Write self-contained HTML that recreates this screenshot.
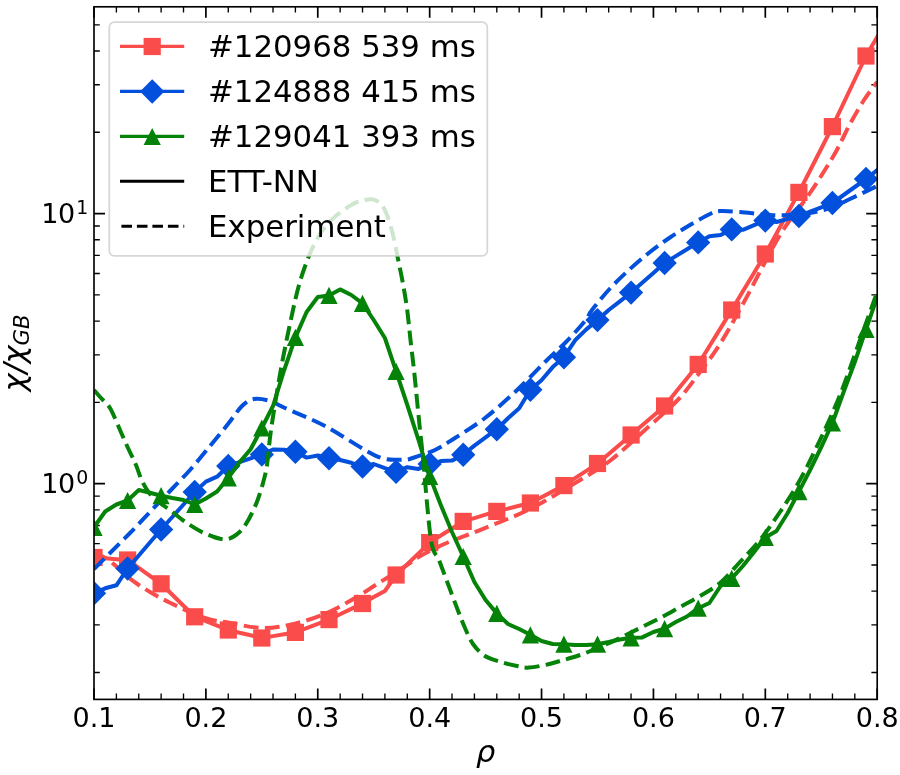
<!DOCTYPE html>
<html><head><meta charset="utf-8"><title>chi/chi_GB vs rho</title>
<style>html,body{margin:0;padding:0;background:#fff}svg{display:block}text{font-family:"DejaVu Sans","Liberation Sans",sans-serif;fill:#000}</style>
</head><body>
<svg width="900" height="775" viewBox="0 0 900 775">
<rect width="900" height="775" fill="#fff"/>
<defs><clipPath id="ax"><rect x="94.0" y="6.8" width="783.2" height="692.6"/></clipPath></defs>
<g fill="none"><path d="M94.00,699.4 v-11.0 M94.00,6.8 v11.0" stroke="#000" stroke-width="1.7"/><path d="M116.38,699.4 v-5.8 M116.38,6.8 v5.8" stroke="#000" stroke-width="1.35"/><path d="M138.75,699.4 v-5.8 M138.75,6.8 v5.8" stroke="#000" stroke-width="1.35"/><path d="M161.13,699.4 v-5.8 M161.13,6.8 v5.8" stroke="#000" stroke-width="1.35"/><path d="M183.51,699.4 v-5.8 M183.51,6.8 v5.8" stroke="#000" stroke-width="1.35"/><path d="M205.89,699.4 v-11.0 M205.89,6.8 v11.0" stroke="#000" stroke-width="1.7"/><path d="M228.26,699.4 v-5.8 M228.26,6.8 v5.8" stroke="#000" stroke-width="1.35"/><path d="M250.64,699.4 v-5.8 M250.64,6.8 v5.8" stroke="#000" stroke-width="1.35"/><path d="M273.02,699.4 v-5.8 M273.02,6.8 v5.8" stroke="#000" stroke-width="1.35"/><path d="M295.39,699.4 v-5.8 M295.39,6.8 v5.8" stroke="#000" stroke-width="1.35"/><path d="M317.77,699.4 v-11.0 M317.77,6.8 v11.0" stroke="#000" stroke-width="1.7"/><path d="M340.15,699.4 v-5.8 M340.15,6.8 v5.8" stroke="#000" stroke-width="1.35"/><path d="M362.53,699.4 v-5.8 M362.53,6.8 v5.8" stroke="#000" stroke-width="1.35"/><path d="M384.90,699.4 v-5.8 M384.90,6.8 v5.8" stroke="#000" stroke-width="1.35"/><path d="M407.28,699.4 v-5.8 M407.28,6.8 v5.8" stroke="#000" stroke-width="1.35"/><path d="M429.66,699.4 v-11.0 M429.66,6.8 v11.0" stroke="#000" stroke-width="1.7"/><path d="M452.03,699.4 v-5.8 M452.03,6.8 v5.8" stroke="#000" stroke-width="1.35"/><path d="M474.41,699.4 v-5.8 M474.41,6.8 v5.8" stroke="#000" stroke-width="1.35"/><path d="M496.79,699.4 v-5.8 M496.79,6.8 v5.8" stroke="#000" stroke-width="1.35"/><path d="M519.17,699.4 v-5.8 M519.17,6.8 v5.8" stroke="#000" stroke-width="1.35"/><path d="M541.54,699.4 v-11.0 M541.54,6.8 v11.0" stroke="#000" stroke-width="1.7"/><path d="M563.92,699.4 v-5.8 M563.92,6.8 v5.8" stroke="#000" stroke-width="1.35"/><path d="M586.30,699.4 v-5.8 M586.30,6.8 v5.8" stroke="#000" stroke-width="1.35"/><path d="M608.67,699.4 v-5.8 M608.67,6.8 v5.8" stroke="#000" stroke-width="1.35"/><path d="M631.05,699.4 v-5.8 M631.05,6.8 v5.8" stroke="#000" stroke-width="1.35"/><path d="M653.43,699.4 v-11.0 M653.43,6.8 v11.0" stroke="#000" stroke-width="1.7"/><path d="M675.81,699.4 v-5.8 M675.81,6.8 v5.8" stroke="#000" stroke-width="1.35"/><path d="M698.18,699.4 v-5.8 M698.18,6.8 v5.8" stroke="#000" stroke-width="1.35"/><path d="M720.56,699.4 v-5.8 M720.56,6.8 v5.8" stroke="#000" stroke-width="1.35"/><path d="M742.94,699.4 v-5.8 M742.94,6.8 v5.8" stroke="#000" stroke-width="1.35"/><path d="M765.31,699.4 v-11.0 M765.31,6.8 v11.0" stroke="#000" stroke-width="1.7"/><path d="M787.69,699.4 v-5.8 M787.69,6.8 v5.8" stroke="#000" stroke-width="1.35"/><path d="M810.07,699.4 v-5.8 M810.07,6.8 v5.8" stroke="#000" stroke-width="1.35"/><path d="M832.45,699.4 v-5.8 M832.45,6.8 v5.8" stroke="#000" stroke-width="1.35"/><path d="M854.82,699.4 v-5.8 M854.82,6.8 v5.8" stroke="#000" stroke-width="1.35"/><path d="M877.20,699.4 v-11.0 M877.20,6.8 v11.0" stroke="#000" stroke-width="1.7"/><path d="M94.0,672.49 h5.8 M877.2,672.49 h-5.8" stroke="#000" stroke-width="1.35"/><path d="M94.0,624.93 h5.8 M877.2,624.93 h-5.8" stroke="#000" stroke-width="1.35"/><path d="M94.0,591.18 h5.8 M877.2,591.18 h-5.8" stroke="#000" stroke-width="1.35"/><path d="M94.0,565.01 h5.8 M877.2,565.01 h-5.8" stroke="#000" stroke-width="1.35"/><path d="M94.0,543.62 h5.8 M877.2,543.62 h-5.8" stroke="#000" stroke-width="1.35"/><path d="M94.0,525.54 h5.8 M877.2,525.54 h-5.8" stroke="#000" stroke-width="1.35"/><path d="M94.0,509.88 h5.8 M877.2,509.88 h-5.8" stroke="#000" stroke-width="1.35"/><path d="M94.0,496.06 h5.8 M877.2,496.06 h-5.8" stroke="#000" stroke-width="1.35"/><path d="M94.0,483.70 h11.0 M877.2,483.70 h-11.0" stroke="#000" stroke-width="1.7"/><path d="M94.0,402.39 h5.8 M877.2,402.39 h-5.8" stroke="#000" stroke-width="1.35"/><path d="M94.0,354.83 h5.8 M877.2,354.83 h-5.8" stroke="#000" stroke-width="1.35"/><path d="M94.0,321.08 h5.8 M877.2,321.08 h-5.8" stroke="#000" stroke-width="1.35"/><path d="M94.0,294.91 h5.8 M877.2,294.91 h-5.8" stroke="#000" stroke-width="1.35"/><path d="M94.0,273.52 h5.8 M877.2,273.52 h-5.8" stroke="#000" stroke-width="1.35"/><path d="M94.0,255.44 h5.8 M877.2,255.44 h-5.8" stroke="#000" stroke-width="1.35"/><path d="M94.0,239.78 h5.8 M877.2,239.78 h-5.8" stroke="#000" stroke-width="1.35"/><path d="M94.0,225.96 h5.8 M877.2,225.96 h-5.8" stroke="#000" stroke-width="1.35"/><path d="M94.0,213.60 h11.0 M877.2,213.60 h-11.0" stroke="#000" stroke-width="1.7"/><path d="M94.0,132.29 h5.8 M877.2,132.29 h-5.8" stroke="#000" stroke-width="1.35"/><path d="M94.0,84.73 h5.8 M877.2,84.73 h-5.8" stroke="#000" stroke-width="1.35"/><path d="M94.0,50.98 h5.8 M877.2,50.98 h-5.8" stroke="#000" stroke-width="1.35"/><path d="M94.0,24.81 h5.8 M877.2,24.81 h-5.8" stroke="#000" stroke-width="1.35"/></g>
<g clip-path="url(#ax)" fill="none" stroke-linejoin="round">
<path d="M94.0,557.5 L105.2,558.3 L116.4,559.2 L127.6,560.0 L138.8,567.9 L149.9,575.9 L161.1,583.8 L172.3,594.8 L183.5,605.8 L194.7,616.8 L205.9,621.2 L217.1,625.6 L228.3,630.0 L239.5,632.7 L250.6,635.3 L261.8,638.0 L273.0,636.1 L284.2,634.3 L295.4,632.4 L306.6,628.1 L317.8,623.9 L329.0,619.6 L340.1,614.2 L351.3,608.9 L362.5,603.5 L373.7,597.0 L384.9,591.0 L396.1,575.0 L407.3,564.2 L418.5,553.4 L429.7,542.6 L440.8,535.5 L452.0,528.5 L463.2,521.4 L474.4,518.1 L485.6,514.7 L496.8,511.4 L508.0,508.6 L519.2,505.8 L530.4,503.0 L541.5,497.2 L552.7,491.4 L563.9,485.6 L575.1,478.2 L586.3,470.9 L597.5,463.5 L608.7,454.0 L619.9,444.5 L631.1,435.0 L642.2,425.3 L653.4,415.7 L664.6,406.0 L675.8,392.1 L687.0,378.3 L698.2,364.4 L709.4,346.3 L720.6,328.1 L731.7,310.0 L742.9,291.3 L754.1,272.7 L765.3,254.0 L776.5,233.5 L787.7,212.9 L798.9,192.4 L810.1,170.5 L821.3,148.5 L832.4,126.6 L843.6,103.1 L854.8,79.5 L866.0,56.0 L877.2,37.0" stroke="#fa4c4b" stroke-width="4.0" stroke-linecap="square"/>
<rect x="85.4" y="548.9" width="17.2" height="17.2" fill="#fa4c4b"/>
<rect x="119.0" y="551.4" width="17.2" height="17.2" fill="#fa4c4b"/>
<rect x="152.5" y="575.2" width="17.2" height="17.2" fill="#fa4c4b"/>
<rect x="186.1" y="608.2" width="17.2" height="17.2" fill="#fa4c4b"/>
<rect x="219.7" y="621.4" width="17.2" height="17.2" fill="#fa4c4b"/>
<rect x="253.2" y="629.4" width="17.2" height="17.2" fill="#fa4c4b"/>
<rect x="286.8" y="623.8" width="17.2" height="17.2" fill="#fa4c4b"/>
<rect x="320.4" y="611.0" width="17.2" height="17.2" fill="#fa4c4b"/>
<rect x="353.9" y="594.9" width="17.2" height="17.2" fill="#fa4c4b"/>
<rect x="387.5" y="566.4" width="17.2" height="17.2" fill="#fa4c4b"/>
<rect x="421.1" y="534.0" width="17.2" height="17.2" fill="#fa4c4b"/>
<rect x="454.6" y="512.8" width="17.2" height="17.2" fill="#fa4c4b"/>
<rect x="488.2" y="502.8" width="17.2" height="17.2" fill="#fa4c4b"/>
<rect x="521.8" y="494.4" width="17.2" height="17.2" fill="#fa4c4b"/>
<rect x="555.3" y="477.0" width="17.2" height="17.2" fill="#fa4c4b"/>
<rect x="588.9" y="454.9" width="17.2" height="17.2" fill="#fa4c4b"/>
<rect x="622.5" y="426.4" width="17.2" height="17.2" fill="#fa4c4b"/>
<rect x="656.0" y="397.4" width="17.2" height="17.2" fill="#fa4c4b"/>
<rect x="689.6" y="355.8" width="17.2" height="17.2" fill="#fa4c4b"/>
<rect x="723.1" y="301.4" width="17.2" height="17.2" fill="#fa4c4b"/>
<rect x="756.7" y="245.4" width="17.2" height="17.2" fill="#fa4c4b"/>
<rect x="790.3" y="183.8" width="17.2" height="17.2" fill="#fa4c4b"/>
<rect x="823.8" y="118.0" width="17.2" height="17.2" fill="#fa4c4b"/>
<rect x="857.4" y="47.4" width="17.2" height="17.2" fill="#fa4c4b"/>
<path d="M94.0,552.0 C96.7,553.5 104.0,556.5 110.0,561.0 C116.0,565.5 123.3,573.5 130.0,578.7 C136.7,583.9 143.3,588.0 150.0,592.0 C156.7,596.0 163.3,599.4 170.0,602.7 C176.7,606.0 183.3,609.2 190.0,612.0 C196.7,614.8 203.7,617.8 210.0,619.5 C216.3,621.2 219.3,621.1 228.0,622.5 C236.7,623.9 250.8,627.8 262.0,628.0 C273.2,628.2 283.8,626.3 295.0,623.6 C306.2,620.9 318.2,616.8 329.0,612.0 C339.8,607.2 352.5,599.3 360.0,595.0 C367.5,590.7 369.0,589.2 374.0,586.0 C379.0,582.8 384.0,579.8 390.0,576.0 C396.0,572.2 404.7,566.5 410.0,563.0 C415.3,559.5 417.0,557.8 422.0,555.0 C427.0,552.2 435.3,548.2 440.0,546.0 C444.7,543.8 445.0,543.5 450.0,541.5 C455.0,539.5 463.3,536.6 470.0,534.0 C476.7,531.4 483.3,528.7 490.0,526.0 C496.7,523.3 503.3,520.8 510.0,518.0 C516.7,515.2 523.3,512.3 530.0,509.0 C536.7,505.7 543.3,501.8 550.0,498.0 C556.7,494.2 563.3,490.0 570.0,486.0 C576.7,482.0 583.2,478.3 590.0,474.0 C596.8,469.7 601.8,467.3 611.0,460.0 C620.2,452.7 633.7,440.2 645.0,430.0 C656.3,419.8 669.5,408.7 678.7,399.0 C687.9,389.3 693.1,381.2 700.0,372.0 C706.9,362.8 712.7,355.7 720.0,344.0 C727.3,332.3 734.0,320.2 744.0,302.0 C754.0,283.8 769.0,253.2 780.0,235.0 C791.0,216.8 801.0,206.3 810.0,193.0 C819.0,179.7 827.3,166.5 834.0,155.0 C840.7,143.5 845.0,133.2 850.0,124.0 C855.0,114.8 859.5,107.0 864.0,100.0 C868.5,93.0 875.0,85.0 877.2,82.0" stroke="#fa4c4b" stroke-width="4.0" stroke-dasharray="14.8 6.4"/>
<path d="M94.0,593.3 L105.2,588.3 L116.4,585.3 L127.6,568.5 L138.8,555.5 L149.9,542.5 L161.1,529.5 L172.3,517.0 L183.5,504.5 L194.7,492.0 L205.9,481.6 L217.1,476.7 L228.3,466.0 L239.5,462.2 L250.6,458.3 L261.8,454.5 L273.0,449.5 L284.2,449.8 L295.4,451.8 L306.6,457.6 L317.8,455.5 L329.0,458.2 L340.1,460.0 L351.3,462.8 L362.5,466.5 L373.7,464.0 L384.9,468.2 L396.1,471.7 L407.3,467.2 L418.5,468.9 L429.7,464.0 L440.8,461.1 L452.0,460.6 L463.2,454.8 L474.4,445.6 L485.6,437.4 L496.8,429.2 L508.0,418.3 L519.2,408.2 L530.4,389.8 L541.5,380.2 L552.7,367.1 L563.9,357.2 L575.1,340.3 L586.3,329.4 L597.5,320.1 L608.7,310.0 L619.9,301.3 L631.1,292.6 L642.2,282.7 L653.4,272.9 L664.6,263.0 L675.8,256.1 L687.0,249.3 L698.2,242.4 L709.4,236.2 L720.6,235.0 L731.7,229.4 L742.9,229.8 L754.1,225.2 L765.3,220.6 L776.5,222.0 L787.7,219.0 L798.9,216.0 L810.1,211.7 L821.3,207.3 L832.4,203.0 L843.6,195.0 L854.8,187.0 L866.0,179.0 L877.2,170.0" stroke="#0350dc" stroke-width="4.0" stroke-linecap="square"/>
<path d="M94.0,581.1 L106.2,593.3 L94.0,605.5 L81.8,593.3Z" fill="#0350dc"/>
<path d="M127.6,556.3 L139.7,568.5 L127.6,580.7 L115.4,568.5Z" fill="#0350dc"/>
<path d="M161.1,517.3 L173.3,529.5 L161.1,541.7 L149.0,529.5Z" fill="#0350dc"/>
<path d="M194.7,479.8 L206.9,492.0 L194.7,504.2 L182.5,492.0Z" fill="#0350dc"/>
<path d="M228.3,453.8 L240.4,466.0 L228.3,478.2 L216.1,466.0Z" fill="#0350dc"/>
<path d="M261.8,442.3 L274.0,454.5 L261.8,466.7 L249.7,454.5Z" fill="#0350dc"/>
<path d="M295.4,439.6 L307.6,451.8 L295.4,464.0 L283.2,451.8Z" fill="#0350dc"/>
<path d="M329.0,446.0 L341.1,458.2 L329.0,470.4 L316.8,458.2Z" fill="#0350dc"/>
<path d="M362.5,454.3 L374.7,466.5 L362.5,478.7 L350.4,466.5Z" fill="#0350dc"/>
<path d="M396.1,459.5 L408.3,471.7 L396.1,483.9 L383.9,471.7Z" fill="#0350dc"/>
<path d="M429.7,451.8 L441.8,464.0 L429.7,476.2 L417.5,464.0Z" fill="#0350dc"/>
<path d="M463.2,442.6 L475.4,454.8 L463.2,467.0 L451.1,454.8Z" fill="#0350dc"/>
<path d="M496.8,417.0 L509.0,429.2 L496.8,441.4 L484.6,429.2Z" fill="#0350dc"/>
<path d="M530.4,377.6 L542.5,389.8 L530.4,402.0 L518.2,389.8Z" fill="#0350dc"/>
<path d="M563.9,345.0 L576.1,357.2 L563.9,369.4 L551.8,357.2Z" fill="#0350dc"/>
<path d="M597.5,307.9 L609.6,320.1 L597.5,332.3 L585.3,320.1Z" fill="#0350dc"/>
<path d="M631.1,280.4 L643.2,292.6 L631.1,304.8 L618.9,292.6Z" fill="#0350dc"/>
<path d="M664.6,250.8 L676.8,263.0 L664.6,275.2 L652.5,263.0Z" fill="#0350dc"/>
<path d="M698.2,230.2 L710.3,242.4 L698.2,254.6 L686.0,242.4Z" fill="#0350dc"/>
<path d="M731.7,217.2 L743.9,229.4 L731.7,241.6 L719.6,229.4Z" fill="#0350dc"/>
<path d="M765.3,208.4 L777.5,220.6 L765.3,232.8 L753.2,220.6Z" fill="#0350dc"/>
<path d="M798.9,203.8 L811.0,216.0 L798.9,228.2 L786.7,216.0Z" fill="#0350dc"/>
<path d="M832.4,190.8 L844.6,203.0 L832.4,215.2 L820.3,203.0Z" fill="#0350dc"/>
<path d="M866.0,166.8 L878.2,179.0 L866.0,191.2 L853.8,179.0Z" fill="#0350dc"/>
<path d="M94.0,569.0 C96.7,566.3 104.0,559.0 110.0,553.0 C116.0,547.0 123.3,539.8 130.0,533.0 C136.7,526.2 143.3,519.0 150.0,512.0 C156.7,505.0 163.3,498.0 170.0,491.0 C176.7,484.0 183.3,477.5 190.0,470.0 C196.7,462.5 203.7,453.7 210.0,446.0 C216.3,438.3 222.7,430.7 228.0,424.0 C233.3,417.3 237.7,410.2 242.0,406.0 C246.3,401.8 249.3,399.8 254.0,399.0 C258.7,398.2 264.8,399.5 270.0,401.0 C275.2,402.5 275.8,403.8 285.0,408.0 C294.2,412.2 311.7,419.0 325.0,426.0 C338.3,433.0 355.0,444.5 365.0,450.0 C375.0,455.5 378.3,457.4 385.0,459.0 C391.7,460.6 400.7,459.6 405.0,459.5 C409.3,459.4 406.0,460.1 411.0,458.5 C416.0,456.9 427.7,453.4 435.0,450.0 C442.3,446.6 446.7,443.3 455.0,438.0 C463.3,432.7 475.0,425.7 485.0,418.0 C495.0,410.3 505.0,401.3 515.0,392.0 C525.0,382.7 536.7,370.2 545.0,362.0 C553.3,353.8 558.3,349.8 565.0,343.0 C571.7,336.2 580.5,326.5 585.0,321.0 C589.5,315.5 587.8,315.4 592.0,310.0 C596.2,304.6 603.7,295.3 610.0,288.5 C616.3,281.7 623.3,275.1 630.0,269.0 C636.7,262.9 643.3,257.2 650.0,252.0 C656.7,246.8 663.3,242.0 670.0,237.5 C676.7,233.0 683.3,228.9 690.0,225.0 C696.7,221.1 705.0,216.3 710.0,214.0 C715.0,211.7 715.0,211.3 720.0,211.0 C725.0,210.7 731.7,211.3 740.0,212.0 C748.3,212.7 761.7,214.5 770.0,215.0 C778.3,215.5 783.3,215.3 790.0,215.0 C796.7,214.7 803.3,214.2 810.0,213.0 C816.7,211.8 823.3,210.3 830.0,208.0 C836.7,205.7 842.1,202.7 850.0,199.0 C857.9,195.3 872.7,188.2 877.2,186.0" stroke="#0350dc" stroke-width="4.0" stroke-dasharray="14.8 6.4"/>
<path d="M94.0,527.3 L105.2,511.5 L116.4,504.5 L127.6,500.5 L138.8,490.0 L149.9,492.7 L161.1,495.7 L172.3,498.0 L183.5,500.0 L194.7,504.5 L205.9,498.5 L217.1,491.5 L228.3,477.8 L239.5,462.4 L250.6,449.3 L261.8,428.0 L273.0,406.0 L284.2,370.0 L295.4,337.4 L306.6,312.0 L317.8,297.0 L329.0,295.4 L340.1,289.4 L351.3,295.0 L362.5,303.4 L373.7,320.0 L384.9,338.0 L396.1,371.4 L407.3,405.0 L418.5,440.0 L429.7,476.3 L440.8,505.0 L452.0,532.0 L463.2,556.5 L474.4,582.0 L485.6,600.0 L496.8,613.4 L508.0,624.0 L519.2,629.0 L530.4,634.8 L541.5,641.0 L552.7,644.0 L563.9,644.2 L575.1,645.0 L586.3,645.0 L597.5,644.2 L608.7,642.0 L619.9,639.5 L631.1,637.8 L642.2,637.4 L653.4,632.0 L664.6,628.6 L675.8,622.0 L687.0,616.5 L698.2,608.2 L709.4,603.0 L720.6,586.0 L731.7,578.4 L742.9,566.0 L754.1,552.0 L765.3,537.4 L776.5,531.0 L787.7,513.0 L798.9,491.6 L810.1,470.0 L821.3,447.0 L832.4,423.0 L843.6,392.0 L854.8,362.0 L866.0,329.4 L877.2,297.0" stroke="#058208" stroke-width="4.0" stroke-linecap="square"/>
<path d="M94.0,518.7 L102.6,535.9 L85.4,535.9Z" fill="#058208"/>
<path d="M127.6,491.9 L136.2,509.1 L119.0,509.1Z" fill="#058208"/>
<path d="M161.1,487.1 L169.7,504.3 L152.5,504.3Z" fill="#058208"/>
<path d="M194.7,495.9 L203.3,513.1 L186.1,513.1Z" fill="#058208"/>
<path d="M228.3,469.2 L236.9,486.4 L219.7,486.4Z" fill="#058208"/>
<path d="M261.8,419.4 L270.4,436.6 L253.2,436.6Z" fill="#058208"/>
<path d="M295.4,328.8 L304.0,346.0 L286.8,346.0Z" fill="#058208"/>
<path d="M329.0,286.8 L337.6,304.0 L320.4,304.0Z" fill="#058208"/>
<path d="M362.5,294.8 L371.1,312.0 L353.9,312.0Z" fill="#058208"/>
<path d="M396.1,362.8 L404.7,380.0 L387.5,380.0Z" fill="#058208"/>
<path d="M429.7,467.7 L438.3,484.9 L421.1,484.9Z" fill="#058208"/>
<path d="M463.2,547.9 L471.8,565.1 L454.6,565.1Z" fill="#058208"/>
<path d="M496.8,604.8 L505.4,622.0 L488.2,622.0Z" fill="#058208"/>
<path d="M530.4,626.2 L539.0,643.4 L521.8,643.4Z" fill="#058208"/>
<path d="M563.9,635.6 L572.5,652.8 L555.3,652.8Z" fill="#058208"/>
<path d="M597.5,635.6 L606.1,652.8 L588.9,652.8Z" fill="#058208"/>
<path d="M631.1,629.2 L639.7,646.4 L622.5,646.4Z" fill="#058208"/>
<path d="M664.6,620.0 L673.2,637.2 L656.0,637.2Z" fill="#058208"/>
<path d="M698.2,599.6 L706.8,616.8 L689.6,616.8Z" fill="#058208"/>
<path d="M731.7,569.8 L740.3,587.0 L723.1,587.0Z" fill="#058208"/>
<path d="M765.3,528.8 L773.9,546.0 L756.7,546.0Z" fill="#058208"/>
<path d="M798.9,483.0 L807.5,500.2 L790.3,500.2Z" fill="#058208"/>
<path d="M832.4,414.4 L841.0,431.6 L823.8,431.6Z" fill="#058208"/>
<path d="M866.0,320.8 L874.6,338.0 L857.4,338.0Z" fill="#058208"/>
<path d="M94.0,390.0 C95.2,391.3 98.3,395.0 101.0,398.0 C103.7,401.0 106.8,402.7 110.0,408.0 C113.2,413.3 117.0,423.3 120.0,430.0 C123.0,436.7 125.3,442.2 128.0,448.0 C130.7,453.8 133.7,459.5 136.0,465.0 C138.3,470.5 139.7,476.2 142.0,481.0 C144.3,485.8 147.0,490.3 150.0,494.0 C153.0,497.7 156.7,500.3 160.0,503.0 C163.3,505.7 166.0,507.0 170.0,510.0 C174.0,513.0 179.0,517.5 184.0,521.0 C189.0,524.5 195.0,528.3 200.0,531.0 C205.0,533.7 209.7,535.6 214.0,537.0 C218.3,538.4 222.3,539.7 226.0,539.4 C229.7,539.1 233.0,537.1 236.0,535.0 C239.0,532.9 241.3,530.7 244.0,527.0 C246.7,523.3 249.7,517.7 252.0,513.0 C254.3,508.3 256.2,504.0 258.0,499.0 C259.8,494.0 261.5,488.7 263.0,483.0 C264.5,477.3 265.7,473.8 267.0,465.0 C268.3,456.2 269.0,444.2 271.0,430.0 C273.0,415.8 276.7,393.7 279.0,380.0 C281.3,366.3 282.7,359.7 285.0,348.0 C287.3,336.3 290.7,320.5 293.0,310.0 C295.3,299.5 296.7,293.2 299.0,285.0 C301.3,276.8 304.3,268.0 307.0,261.0 C309.7,254.0 312.0,248.7 315.0,243.0 C318.0,237.3 321.3,231.7 325.0,227.0 C328.7,222.3 332.3,218.8 337.0,215.0 C341.7,211.2 348.3,206.5 353.0,204.0 C357.7,201.5 361.7,200.8 365.0,200.0 C368.3,199.2 370.3,198.7 373.0,199.4 C375.7,200.1 378.7,201.4 381.0,204.0 C383.3,206.6 385.0,209.8 387.0,215.0 C389.0,220.2 391.2,227.7 393.0,235.0 C394.8,242.3 396.3,250.7 398.0,259.0 C399.7,267.3 401.7,276.5 403.2,285.0 C404.7,293.5 406.0,300.8 407.2,310.0 C408.4,319.2 409.4,330.0 410.5,340.0 C411.6,350.0 412.9,360.0 414.0,370.0 C415.1,380.0 416.0,390.0 417.0,400.0 C418.0,410.0 419.0,420.3 420.0,430.0 C421.0,439.7 421.2,439.7 423.0,458.0 C424.8,476.3 428.3,523.0 431.0,540.0 C433.7,557.0 436.2,552.7 439.0,560.0 C441.8,567.3 445.0,576.0 448.0,584.0 C451.0,592.0 454.2,600.7 457.0,608.0 C459.8,615.3 462.3,622.0 465.0,628.0 C467.7,634.0 469.7,639.3 473.0,644.0 C476.3,648.7 480.3,653.0 485.0,656.0 C489.7,659.0 495.7,660.3 501.0,662.0 C506.3,663.7 512.3,665.1 517.0,666.0 C521.7,666.9 524.3,667.8 529.0,667.6 C533.7,667.4 539.8,666.1 545.0,665.0 C550.2,663.9 554.2,662.7 560.0,661.0 C565.8,659.3 573.3,657.3 580.0,655.0 C586.7,652.7 593.3,649.8 600.0,647.0 C606.7,644.2 613.3,641.2 620.0,638.0 C626.7,634.8 633.3,631.3 640.0,628.0 C646.7,624.7 653.3,621.5 660.0,618.0 C666.7,614.5 673.3,610.7 680.0,607.0 C686.7,603.3 693.3,600.0 700.0,596.0 C706.7,592.0 713.3,588.7 720.0,583.0 C726.7,577.3 733.3,569.2 740.0,562.0 C746.7,554.8 753.3,548.3 760.0,540.0 C766.7,531.7 773.3,522.0 780.0,512.0 C786.7,502.0 793.3,492.0 800.0,480.0 C806.7,468.0 813.3,454.2 820.0,440.0 C826.7,425.8 833.3,411.7 840.0,395.0 C846.7,378.3 853.8,357.2 860.0,340.0 C866.2,322.8 874.3,300.0 877.2,292.0" stroke="#058208" stroke-width="4.0" stroke-dasharray="14.8 6.4"/>
</g>
<rect x="94.0" y="6.8" width="783.2" height="692.6" fill="none" stroke="#000" stroke-width="1.65"/>
<text x="94.0" y="727.2" font-size="27" text-anchor="middle">0.1</text>
<text x="205.9" y="727.2" font-size="27" text-anchor="middle">0.2</text>
<text x="317.8" y="727.2" font-size="27" text-anchor="middle">0.3</text>
<text x="429.7" y="727.2" font-size="27" text-anchor="middle">0.4</text>
<text x="541.5" y="727.2" font-size="27" text-anchor="middle">0.5</text>
<text x="653.4" y="727.2" font-size="27" text-anchor="middle">0.6</text>
<text x="765.3" y="727.2" font-size="27" text-anchor="middle">0.7</text>
<text x="877.2" y="727.2" font-size="27" text-anchor="middle">0.8</text>
<text x="41.2" y="223.3" font-size="27" letter-spacing="-0.4">10<tspan font-size="18.9" dy="-9.8" dx="1.4">1</tspan></text>
<text x="41.2" y="493.4" font-size="27" letter-spacing="-0.4">10<tspan font-size="18.9" dy="-9.8" dx="1.4">0</tspan></text>
<text x="485.6" y="761.8" font-size="30.4" font-style="italic" text-anchor="middle">ρ</text>
<text transform="translate(24.6,391.6) rotate(-90)" font-size="30.4" font-style="italic">χ/χ<tspan font-size="21.3" dy="4.5">GB</tspan></text>
<rect x="109.3" y="22.2" width="378" height="233.7" rx="5" ry="5" fill="#fff" fill-opacity="0.8" stroke="#ccc" stroke-opacity="0.8" stroke-width="1.7"/>
<path d="M120,46.4 H184.2" stroke="#fa4c4b" stroke-width="3.1" fill="none"/>
<rect x="143.6" y="37.9" width="17.2" height="17.2" fill="#fa4c4b"/>
<path d="M120,91.4 H184.2" stroke="#0350dc" stroke-width="3.1" fill="none"/>
<path d="M152.2,79.3 L164.4,91.5 L152.2,103.7 L140.0,91.5Z" fill="#0350dc"/>
<path d="M120,136.4 H184.2" stroke="#058208" stroke-width="3.1" fill="none"/>
<path d="M152.2,127.9 L160.8,145.1 L143.6,145.1Z" fill="#058208"/>
<path d="M120,181.3 H184.2" stroke="#000" stroke-width="3.1" fill="none"/>
<path d="M121.4,226.3 H184.2" stroke="#000" stroke-width="3.1" fill="none" stroke-dasharray="10.6 4.9"/>
<text x="208.0" y="57.2" font-size="30.8">#120968 539 ms</text>
<text x="208.0" y="102.2" font-size="30.8">#124888 415 ms</text>
<text x="208.0" y="147.2" font-size="30.8">#129041 393 ms</text>
<text x="208.0" y="192.1" font-size="30.8">ETT-NN</text>
<text x="208.0" y="237.1" font-size="30.8">Experiment</text>
</svg></body></html>
